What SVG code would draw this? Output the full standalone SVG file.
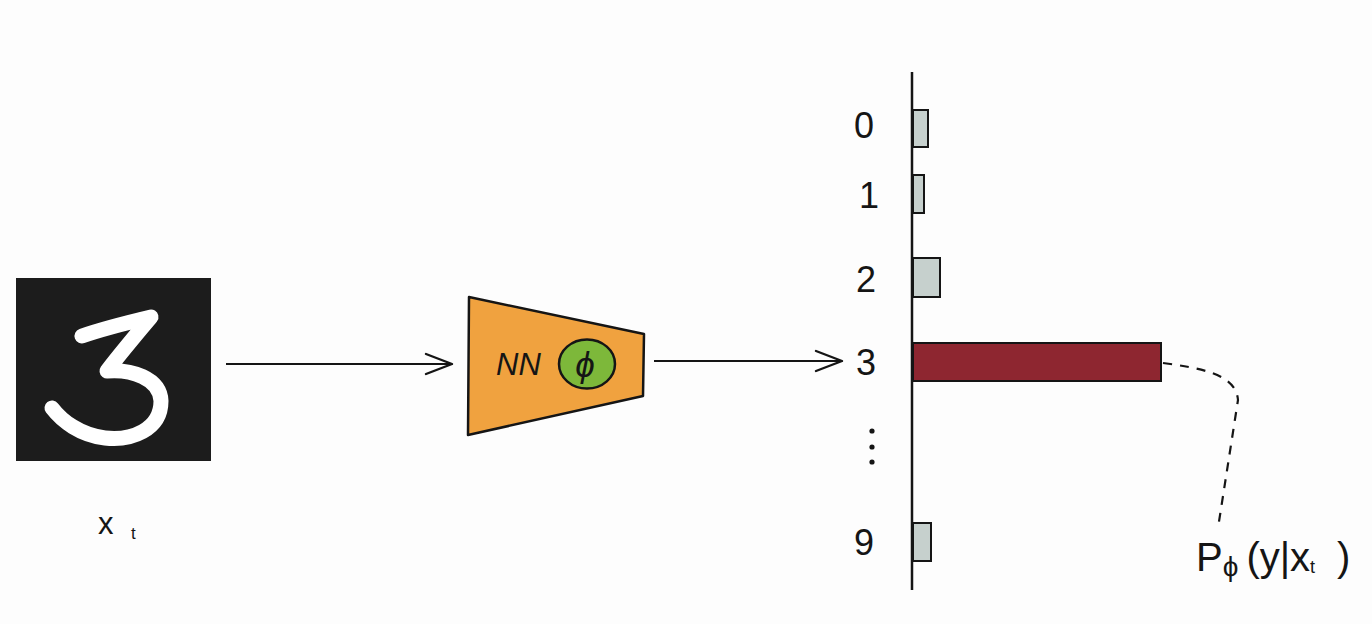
<svg xmlns="http://www.w3.org/2000/svg" width="1372" height="624" viewBox="0 0 1372 624">
<style>
.lbl{font-family:"Liberation Sans",Arial,sans-serif;fill:#151515}
.dig{font-size:36px;text-anchor:middle}
.bar{fill:#C6D0CD;stroke:#151515;stroke-width:2}
.ln{stroke:#151515;stroke-width:2.2;fill:none}
</style>
<defs>
<marker id="chev" viewBox="0 0 30 24" refX="28" refY="12" markerWidth="30" markerHeight="24" markerUnits="userSpaceOnUse" orient="auto">
<path d="M2,2 L28,12 L2,22" fill="none" stroke="#151515" stroke-width="2.4" stroke-linecap="round" stroke-linejoin="round"/>
</marker>
</defs>
<rect width="1372" height="624" fill="#FDFDFD"/>
<g id="input">
<rect x="16" y="278" width="195" height="183" fill="#1C1C1C"/>
<path d="M82,336 C105,328 130,322 151,317 C136,335 119,355 107,371 C131,369 160,378 161,401 C161,430 131,441 105,438 C80,435 62,421 52,408" fill="none" stroke="#FFFFFF" stroke-width="15" stroke-linecap="round" stroke-linejoin="round"/>
<text class="lbl" x="98" y="534" font-size="31">x</text>
<text class="lbl" x="131" y="539" font-size="17">t</text>
</g>
<g id="network">
<polygon points="469,297 644,334 643,396 468,435" fill="#F0A23F" stroke="#151515" stroke-width="2.5" stroke-linejoin="round"/>
<text class="lbl" x="496" y="375" font-size="31" font-style="italic">NN</text>
<ellipse cx="587" cy="364" rx="28" ry="24.5" fill="#7DB83A" stroke="#151515" stroke-width="2.5"/>
<text class="lbl" x="585" y="377" font-size="35" font-style="italic" text-anchor="middle">ϕ</text>
</g>
<g id="connectors">
<line class="ln" x1="226" y1="364" x2="452" y2="364" marker-end="url(#chev)"/>
<line class="ln" x1="654" y1="361" x2="842" y2="361" marker-end="url(#chev)"/>
<path d="M1163,363 C1200,368 1236,374 1238,400 L1218,528" fill="none" stroke="#151515" stroke-width="2.2" stroke-dasharray="9,8"/>
</g>
<g id="distribution">
<line x1="912" y1="72" x2="912" y2="590" stroke="#151515" stroke-width="2.5"/>
<rect class="bar" x="913" y="110" width="15" height="37"/>
<rect class="bar" x="913" y="175" width="11" height="38"/>
<rect class="bar" x="913" y="258" width="27" height="39"/>
<rect x="913" y="343" width="248" height="38" fill="#8E2630" stroke="#151515" stroke-width="2"/>
<rect class="bar" x="913" y="523" width="18" height="38"/>
<text class="lbl dig" x="864" y="138">0</text>
<text class="lbl dig" x="869" y="208">1</text>
<text class="lbl dig" x="866" y="292">2</text>
<text class="lbl dig" x="866" y="375">3</text>
<text class="lbl dig" x="864" y="555">9</text>
<circle cx="872" cy="431" r="2.6" fill="#151515"/>
<circle cx="872" cy="447" r="2.6" fill="#151515"/>
<circle cx="872" cy="462" r="2.6" fill="#151515"/>
</g>
<g id="output-label">
<text class="lbl" x="1196" y="571" font-size="40">P<tspan font-size="28" dy="5">ϕ</tspan><tspan dy="-5" dx="8">(y|x</tspan><tspan font-size="18" dy="2">t</tspan><tspan dy="-2" dx="22">)</tspan></text>
</g>
</svg>
